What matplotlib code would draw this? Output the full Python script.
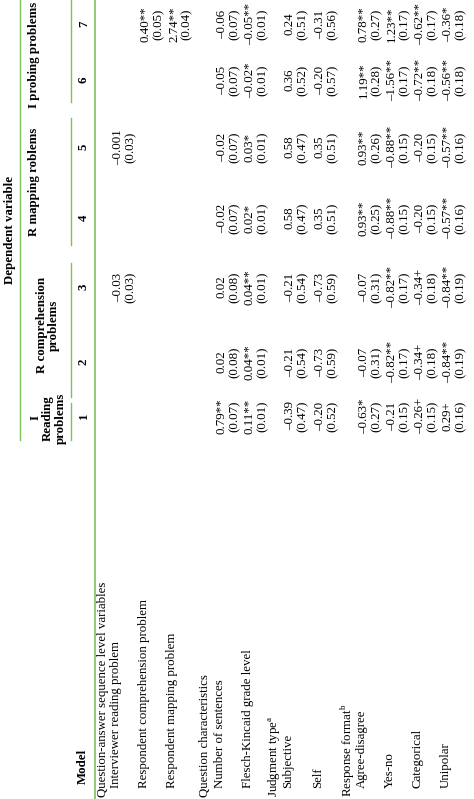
import matplotlib
matplotlib.use("Agg")
import matplotlib.pyplot as plt

plt.rcParams['font.family'] = ['Liberation Serif', 'DejaVu Serif']
plt.rcParams['mathtext.fontset'] = 'custom'
plt.rcParams['mathtext.rm'] = 'Liberation Serif'

row_labels = ["Interviewer reading problem", "Respondent comprehension problem",
              "Respondent mapping problem", "Number of sentences",
              "Flesch-Kincaid grade level", "Subjective", "Self",
              "Agree-disagree", "Yes-no", "Categorical", "Unipolar"]
# coefficient / standard error per model column 1..7 (None = empty)
coef = [
    [None, None, "–0.03", None, "–0.001", None, None],
    [None, None, None, None, None, None, "0.40**"],
    [None, None, None, None, None, None, "2.74**"],
    ["0.79**", "0.02", "0.02", "–0.02", "–0.02", "–0.05", "–0.06"],
    ["0.11**", "0.04**", "0.04**", "0.02*", "0.03*", "–0.02*", "–0.05**"],
    ["–0.39", "–0.21", "–0.21", "0.58", "0.58", "0.36", "0.24"],
    ["–0.20", "–0.73", "–0.73", "0.35", "0.35", "–0.20", "–0.31"],
    ["–0.63*", "–0.07", "–0.07", "0.93**", "0.93**", "1.19**", "0.78**"],
    ["–0.21", "–0.82**", "–0.82**", "–0.88**", "–0.88**", "–1.56**", "1.23**"],
    ["–0.26+", "–0.34+", "–0.34+", "–0.20", "–0.20", "–0.72**", "–0.62**"],
    ["0.29+", "–0.84**", "–0.84**", "–0.57**", "–0.57**", "–0.56**", "–0.36*"],
]
se = [
    [None, None, "(0.03)", None, "(0.03)", None, None],
    [None, None, None, None, None, None, "(0.05)"],
    [None, None, None, None, None, None, "(0.04)"],
    ["(0.07)", "(0.08)", "(0.08)", "(0.07)", "(0.07)", "(0.07)", "(0.07)"],
    ["(0.01)", "(0.01)", "(0.01)", "(0.01)", "(0.01)", "(0.01)", "(0.01)"],
    ["(0.47)", "(0.54)", "(0.54)", "(0.47)", "(0.47)", "(0.52)", "(0.51)"],
    ["(0.52)", "(0.59)", "(0.59)", "(0.51)", "(0.51)", "(0.57)", "(0.56)"],
    ["(0.27)", "(0.31)", "(0.31)", "(0.25)", "(0.26)", "(0.28)", "(0.27)"],
    ["(0.15)", "(0.17)", "(0.17)", "(0.15)", "(0.15)", "(0.17)", "(0.17)"],
    ["(0.15)", "(0.18)", "(0.18)", "(0.15)", "(0.15)", "(0.18)", "(0.17)"],
    ["(0.16)", "(0.19)", "(0.19)", "(0.16)", "(0.16)", "(0.18)", "(0.18)"],
]
col_numbers = ["1", "2", "3", "4", "5", "6", "7"]
group_labels = ["I\nReading\nproblems", "R comprehension\nproblems",
                "R mapping roblems", "I probing problems"]
section_labels = ["Question-answer sequence level variables",
                  "Question characteristics", "Judgment type$^{\\mathregular{a}}$",
                  "Response format$^{\\mathregular{b}}$"]

# ---- layout (pixel coordinates) ----
W, H = 474, 799
fig = plt.figure(figsize=(W / 100, H / 100), dpi=100)
ax = fig.add_axes([0, 0, 1, 1])
ax.set_xlim(0, W)
ax.set_ylim(H, 0)
ax.axis("off")
green = "#7cc35a"
fs = 9.3

row_x = [116, 144, 172, 220, 248, 288, 318, 362, 390, 418, 446]
sec_x = [103, 205, 275, 348]
col_y = [416, 362, 287, 218, 147, 80, 24]
group_y = [418, 325, 182, 55]
group_span = [(403, 440), (263, 397), (118, 245), (0, 102)]

label_y0 = 788
ax.text(83, 784, "Model", rotation=90, ha="center", va="bottom",
        fontsize=fs, fontweight="bold")
for x, s in zip(sec_x, section_labels):
    ax.text(x, 797, s, rotation=90, ha="center", va="bottom", fontsize=fs)
for x, s in zip(row_x, row_labels):
    ax.text(x, label_y0, s, rotation=90, ha="center", va="bottom", fontsize=fs)

for i, x in enumerate(row_x):
    for j, y in enumerate(col_y):
        if coef[i][j] is not None:
            ax.text(x + 2, y, coef[i][j], rotation=90, ha="center", va="center", fontsize=fs)
            ax.text(x + 15, y, se[i][j], rotation=90, ha="center", va="center", fontsize=fs)

for y, s in zip(col_y, col_numbers):
    ax.text(84, y, s, rotation=90, ha="center", va="center", fontsize=fs, fontweight="bold")

ax.text(10, 230, "Dependent variable", rotation=90, ha="center", va="center",
        fontsize=fs, fontweight="bold")
for y, s in zip(group_y, group_labels):
    ax.text(48 if "\n" in s else 34, y, s, rotation=90, ha="center", va="center",
            fontsize=fs, fontweight="bold", linespacing=1.05, multialignment="center")
for a, b in group_span:
    ax.plot([71, 71], [a, b], color=green, lw=1.0)
ax.plot([20, 20], [0, 440], color=green, lw=1.0)
ax.plot([95, 95], [0, H], color=green, lw=1.2)

fig.savefig("out.png", dpi=100)
